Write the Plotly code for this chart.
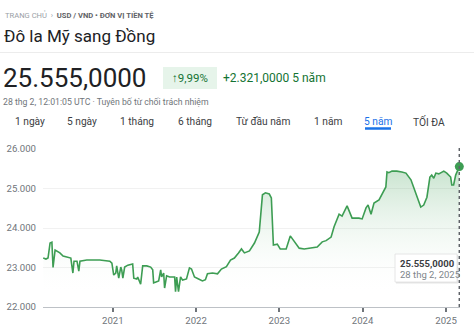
import plotly.graph_objects as go
import pandas as pd

dates = [
    "2020-03-02", "2020-03-14", "2020-03-23", "2020-04-01", "2020-04-09", "2020-04-14",
    "2020-04-23", "2020-05-01", "2020-05-14", "2020-05-28", "2020-06-18", "2020-07-01",
    "2020-07-10", "2020-07-15", "2020-07-28", "2020-08-05", "2020-08-10", "2020-09-09",
    "2020-11-05", "2020-12-19", "2020-12-28", "2021-01-05", "2021-01-14", "2021-01-18",
    "2021-01-27", "2021-02-05", "2021-02-09", "2021-02-14", "2021-02-22", "2021-03-08",
    "2021-03-29", "2021-04-03", "2021-04-16", "2021-04-20", "2021-05-03", "2021-05-12",
    "2021-05-30", "2021-06-16", "2021-06-25", "2021-06-29", "2021-07-12", "2021-07-21",
    "2021-07-30", "2021-08-03", "2021-08-12", "2021-08-16", "2021-08-25", "2021-09-07",
    "2021-09-29", "2021-10-03", "2021-10-08", "2021-10-16", "2021-10-25", "2021-11-03",
    "2021-11-20", "2021-12-03", "2021-12-12", "2021-12-25", "2022-01-12", "2022-01-29",
    "2022-02-11", "2022-02-20", "2022-03-14", "2022-04-05", "2022-04-22", "2022-05-14",
    "2022-06-01", "2022-06-18", "2022-07-06", "2022-07-19", "2022-08-01", "2022-08-23",
    "2022-09-14", "2022-10-05", "2022-10-19", "2022-11-01", "2022-11-18", "2022-11-27",
    "2022-12-06", "2022-12-23", "2023-01-05", "2023-01-31", "2023-02-18", "2023-03-07",
    "2023-03-29", "2023-04-20", "2023-05-21", "2023-06-16", "2023-07-08", "2023-07-25",
    "2023-08-16", "2023-08-29", "2023-09-20", "2023-10-03", "2023-10-25", "2023-11-11",
    "2023-11-16", "2023-12-16", "2023-12-30", "2024-01-16", "2024-01-25", "2024-02-07",
    "2024-02-20", "2024-03-13", "2024-03-26", "2024-04-12", "2024-04-17", "2024-04-25",
    "2024-05-09", "2024-05-30", "2024-06-21", "2024-07-09", "2024-07-31", "2024-08-21",
    "2024-09-04", "2024-09-12", "2024-09-25", "2024-10-09", "2024-10-22", "2024-10-30",
    "2024-11-08", "2024-11-17", "2024-11-30", "2024-12-22", "2025-01-04", "2025-01-21",
    "2025-01-26", "2025-02-03", "2025-02-12", "2025-02-28",
]
rates = [
    23241, 23215, 23240, 23620, 23640, 23000,
    23440, 23420, 23370, 23290, 23270, 23240,
    22860, 23160, 23160, 22910, 23160, 23190,
    23190, 23160, 23110, 22810, 22860, 23040,
    22730, 23010, 22940, 22730, 23010, 23060,
    23090, 22730, 22710, 22760, 22580, 23040,
    23040, 23010, 22940, 22610, 22640, 22660,
    22940, 22760, 22860, 22480, 22790, 22760,
    22760, 22390, 22760, 22390, 22760, 22680,
    22710, 22990, 22960, 22760, 22710, 22660,
    22690, 22840, 22860, 22840, 22960, 23020,
    23190, 23240, 23370, 23470, 23370, 23420,
    23620, 23900, 24840, 24890, 24860, 24760,
    23570, 23590, 23470, 23470, 23800, 23650,
    23490, 23470, 23490, 23520, 23650, 23680,
    23770, 24030, 24350, 24300, 24560, 24300,
    24250, 24250, 24230, 24510, 24580, 24350,
    24630, 24710, 24840, 25040, 25420, 25400,
    25440, 25440, 25420, 25390, 25220, 24890,
    24630, 24530, 24580, 24780, 25290, 25340,
    25260, 25390, 25370, 25440, 25390, 25290,
    25090, 25090, 25340, 25555,
]
y_ticks = [22000, 23000, 24000, 25000, 26000]
x_ticks = ["2021-01-01", "2022-01-01", "2023-01-01", "2024-01-01", "2025-01-01"]
x_tick_labels = ["2021", "2022", "2023", "2024", "2025"]
tabs = ["1 ngày", "5 ngày", "1 tháng", "6 tháng", "Từ đầu năm", "1 năm", "5 năm", "TỐI ĐA"]
tab_x = [15, 67, 120, 178, 236, 314, 364, 413]
active_tab = "5 năm"

W, H = 474, 330
L, R, T, B = 43, 460, 149, 307


def px(x):
    return (x - L) / (R - L)


def py(y):
    return (B - y) / (B - T)


def fmt(v, dec=4):
    s = f"{v:,.{dec}f}"
    return s.replace(",", "X").replace(".", ",").replace("X", ".")


GREEN = "#3d9d53"
FONT = "Roboto"

fig = go.Figure()
fig.add_trace(go.Scatter(
    x=pd.to_datetime(dates), y=rates, mode="lines",
    line=dict(color=GREEN, width=1.6),
    fill="tozeroy",
    fillgradient=dict(type="vertical", start=22300, stop=25600,
                      colorscale=[[0, "rgba(255,255,255,0)"], [1, "rgba(61,157,83,0.30)"]]),
    hoverinfo="skip",
))
fig.add_trace(go.Scatter(
    x=[pd.to_datetime(dates[-1])], y=[rates[-1]], mode="markers",
    marker=dict(color=GREEN, size=9), hoverinfo="skip", cliponaxis=False,
))

shapes = []
annotations = []

# header
annotations.append(dict(
    x=px(3), y=py(15), xref="paper", yref="paper", xanchor="left", yanchor="middle", showarrow=False,
    text="<span style='color:#9aa0a6'>TRANG CHỦ</span>  <span style='color:#9aa0a6'>›</span>  <b>USD / VND • ĐƠN VỊ TIỀN TỆ</b>",
    font=dict(family=FONT, size=7.6, color="#5f6368")))
annotations.append(dict(
    x=px(2), y=py(36), xref="paper", yref="paper", xanchor="left", yanchor="middle", showarrow=False,
    text="Đô la Mỹ sang Đồng", font=dict(family=FONT, size=17, color="#202124")))
shapes.append(dict(type="line", xref="paper", yref="paper", x0=px(0), x1=px(474), y0=py(52.5), y1=py(52.5),
                   line=dict(color="#ececec", width=1)))

annotations.append(dict(
    x=px(1), y=py(78), xref="paper", yref="paper", xanchor="left", yanchor="middle", showarrow=False,
    text=fmt(rates[-1]), font=dict(family=FONT, size=26, color="#202124")))
shapes.append(dict(type="rect", xref="paper", yref="paper", x0=px(163), x1=px(217), y0=py(67), y1=py(89),
                   fillcolor="#e6f4ea", line=dict(width=0), layer="below"))
annotations.append(dict(
    x=px(190), y=py(78), xref="paper", yref="paper", xanchor="center", yanchor="middle", showarrow=False,
    text="↑9,99%", font=dict(family=FONT, size=11.5, color="#137333")))
annotations.append(dict(
    x=px(221), y=py(78), xref="paper", yref="paper", xanchor="left", yanchor="middle", showarrow=False,
    text="+2.321,0000 5 năm", font=dict(family=FONT, size=12, color="#137333")))
annotations.append(dict(
    x=px(1), y=py(101.5), xref="paper", yref="paper", xanchor="left", yanchor="middle", showarrow=False,
    text="28 thg 2, 12:01:05 UTC · Tuyên bố từ chối trách nhiệm", font=dict(family=FONT, size=8.7, color="#70757a")))

for t, x in zip(tabs, tab_x):
    active = t == active_tab
    annotations.append(dict(
        x=px(x - 2), y=py(121), xref="paper", yref="paper", xanchor="left", yanchor="middle", showarrow=False,
        text=t, font=dict(family=FONT, size=10.2, color="#1a73e8" if active else "#3c4043")))
    if active:
        shapes.append(dict(type="line", xref="paper", yref="paper", x0=px(x + 1), x1=px(x + 27),
                           y0=py(128.5), y1=py(128.5), line=dict(color="#1a73e8", width=2.5)))

# vertical dotted line at last point
shapes.append(dict(type="line", xref="x", yref="paper", x0=pd.to_datetime(dates[-1]), x1=pd.to_datetime(dates[-1]),
                   y0=0, y1=py(148), line=dict(color="#5f6368", width=1.5, dash="dot")))

# tooltip
shapes.append(dict(type="rect", xref="paper", yref="paper", x0=px(396), x1=px(458), y0=py(283.5), y1=py(255),
                   fillcolor="rgba(0,0,0,0.10)", line=dict(width=0)))
shapes.append(dict(type="rect", xref="paper", yref="paper", x0=px(395), x1=px(457), y0=py(282), y1=py(254),
                   fillcolor="white", line=dict(color="#e0e0e0", width=0.8)))
annotations.append(dict(
    x=px(398), y=py(263), xref="paper", yref="paper", xanchor="left", yanchor="middle", showarrow=False,
    text="<b>" + fmt(rates[-1]) + "</b>", font=dict(family=FONT, size=9.5, color="#3c4043")))
annotations.append(dict(
    x=px(398), y=py(274), xref="paper", yref="paper", xanchor="left", yanchor="middle", showarrow=False,
    text="28 thg 2, 2025", font=dict(family=FONT, size=9.5, color="#80868b")))

fig.update_layout(
    width=W, height=H, autosize=False,
    margin=dict(l=L, r=W - R, t=T, b=H - B, pad=0, autoexpand=False),
    paper_bgcolor="white", plot_bgcolor="white",
    showlegend=False, separators=",.",
    font=dict(family=FONT, color="#70757a", size=10),
    shapes=shapes, annotations=annotations,
    xaxis=dict(
        type="date", range=["2020-03-01", "2025-03-03"], automargin=False,
        tickvals=pd.to_datetime(x_ticks), ticktext=x_tick_labels,
        ticks="outside", ticklen=4, tickwidth=1.5, tickcolor="#70757a",
        showgrid=False, showline=True, linecolor="#bdc1c6", linewidth=1,
        tickfont=dict(family=FONT, size=9.6, color="#70757a"), zeroline=False,
    ),
    yaxis=dict(
        range=[22000, 26000], tickvals=y_ticks, tickformat=",.0f", automargin=False,
        showgrid=True, gridcolor="#f1f1f1", gridwidth=1, zeroline=False,
        showline=False, ticks="", ticklabelstandoff=6,
        tickfont=dict(family=FONT, size=9.6, color="#70757a"),
    ),
)

fig.write_html("out.html", post_script="document.body.style.margin='0';document.body.style.overflow='hidden';")
